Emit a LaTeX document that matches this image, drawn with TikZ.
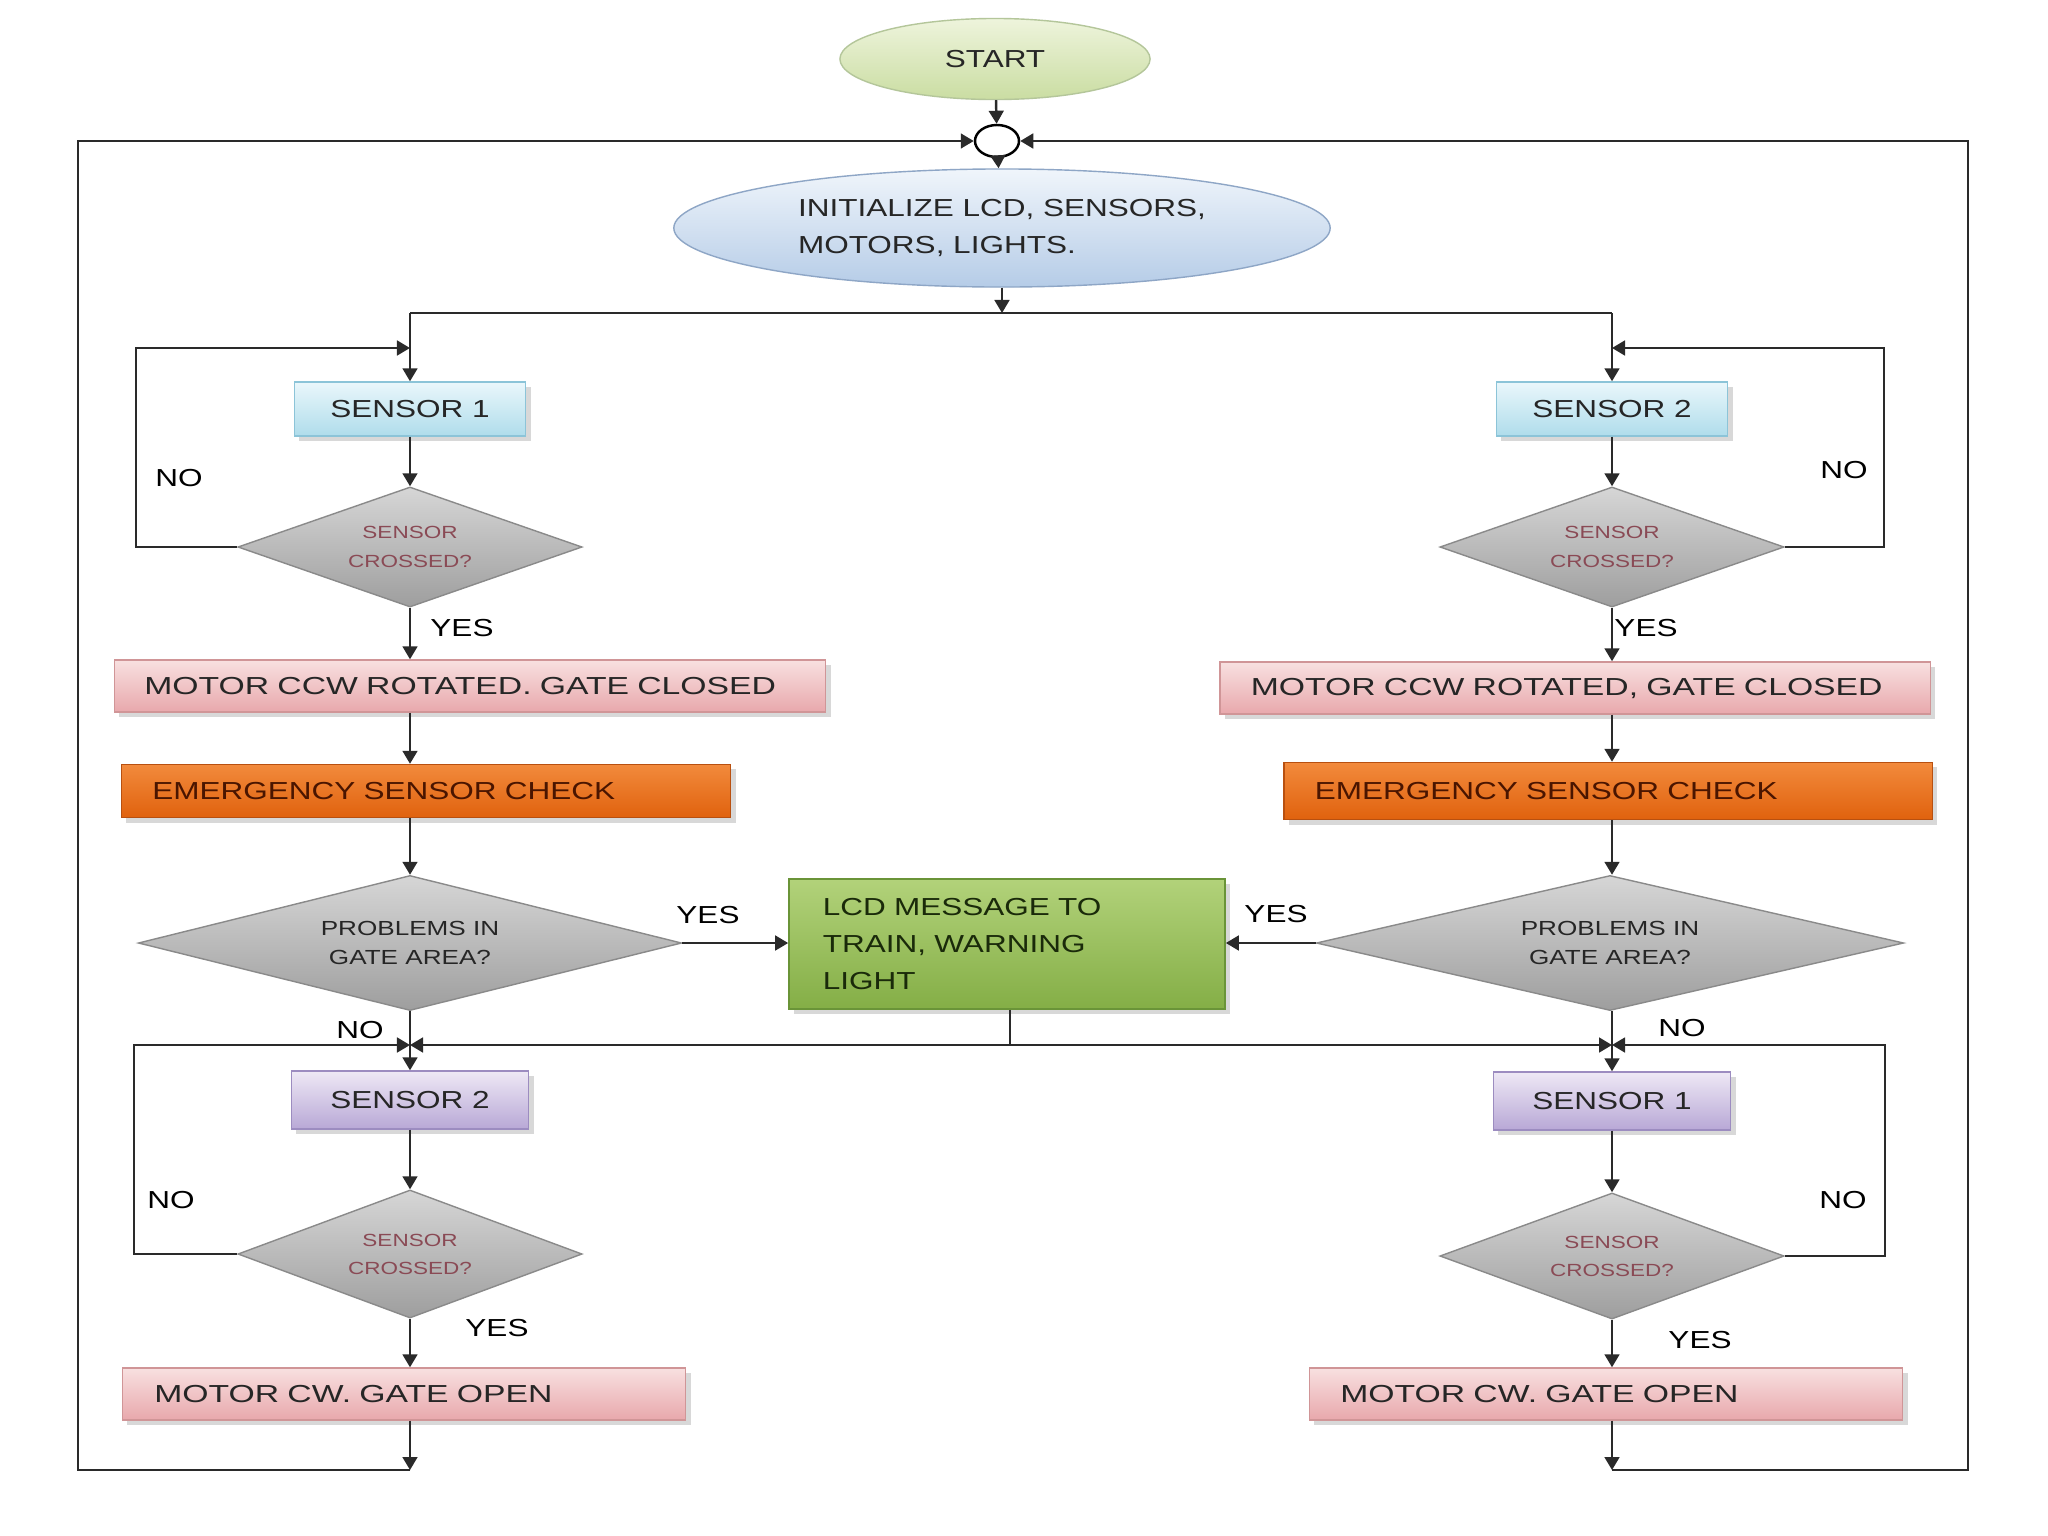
\documentclass[tikz,border=0pt]{standalone}
\usepackage{fontspec}
\setmainfont{Liberation Sans}[FakeStretch=1.28]
\newfontfamily\widefont{Liberation Sans}[FakeStretch=1.37]
\usetikzlibrary{shapes.geometric,arrows.meta,shadows}
\definecolor{lncol}{HTML}{2A2A2A}
\definecolor{txt}{HTML}{262626}
\definecolor{stT}{HTML}{EEF4DC}\definecolor{stB}{HTML}{CADDA2}\definecolor{stD}{HTML}{B4C69A}
\definecolor{inT}{HTML}{F0F5FB}\definecolor{inB}{HTML}{B5CCE7}\definecolor{inD}{HTML}{8EA6C6}
\definecolor{cyT}{HTML}{EAF7FB}\definecolor{cyB}{HTML}{AFDCEB}\definecolor{cyD}{HTML}{8CC4D8}
\definecolor{grT}{HTML}{D6D6D6}\definecolor{grB}{HTML}{9E9E9E}\definecolor{grD}{HTML}{8A8A8A}
\definecolor{pkT}{HTML}{F8E0E0}\definecolor{pkB}{HTML}{E8A8AC}\definecolor{pkD}{HTML}{D09597}
\definecolor{orT}{HTML}{F28A3C}\definecolor{orB}{HTML}{E0620E}\definecolor{orD}{HTML}{B85010}
\definecolor{orTx}{HTML}{4A1500}
\definecolor{lcT}{HTML}{B2D27A}\definecolor{lcB}{HTML}{84AE46}\definecolor{lcD}{HTML}{6A9438}
\definecolor{lcTx}{HTML}{1A2A0A}
\definecolor{puT}{HTML}{EEE8F5}\definecolor{puB}{HTML}{B8A8D6}\definecolor{puD}{HTML}{9C8CC0}
\definecolor{crTx}{HTML}{8A4A55}
\tikzset{
  every node/.style={font=\fontsize{7}{10.5}\selectfont, text=txt},
  ln/.style={draw=lncol, line width=0.7pt},
  arr/.style={ln, -{Triangle[length=3.7pt,width=4.2pt]}},
  shd/.style={drop shadow={shadow xshift=0.5mm,shadow yshift=-0.5mm,opacity=0.3}},
  startn/.style={ellipse, draw=stD, top color=stT, bottom color=stB, minimum width=3.10cm, minimum height=0.81cm, inner sep=0pt},
  junc/.style={ellipse, draw=black, line width=0.7pt, fill=white, minimum width=0.44cm, minimum height=0.32cm, inner sep=0pt},
  initn/.style={ellipse, draw=inD, top color=inT, bottom color=inB, minimum width=6.56cm, minimum height=1.18cm, inner sep=0pt, align=left},
  cyanbox/.style={rectangle, draw=cyD, top color=cyT, bottom color=cyB, minimum width=2.31cm, minimum height=0.54cm, inner sep=0pt, shd},
  purbox/.style={rectangle, draw=puD, top color=puT, bottom color=puB, minimum width=2.37cm, minimum height=0.58cm, inner sep=0pt, shd},
  pinkbox/.style={rectangle, draw=pkD, top color=pkT, bottom color=pkB, minimum height=0.52cm, inner ysep=0pt, align=left, font=\widefont\fontsize{7}{10.5}\selectfont, shd},
  orbox/.style={rectangle, draw=orD, top color=orT, bottom color=orB, text=orTx, inner xsep=0.31cm, inner ysep=0pt, align=left, shd},
  lcdbox/.style={rectangle, draw=lcD, top color=lcT, bottom color=lcB, text=lcTx, minimum height=1.30cm, inner xsep=0.34cm, inner ysep=0pt, text width=3.68cm, align=left, shd},
  dia/.style={diamond, draw=grD, top color=grT, bottom color=grB, aspect=2.86, minimum width=3.44cm, minimum height=1.20cm, inner sep=0pt, align=center, text=crTx, font=\fontsize{5}{8}\selectfont},
  pdia/.style={diamond, draw=grD, top color=grT, bottom color=grB, aspect=4, minimum height=1.35cm, inner sep=0pt, align=center, text=txt, font=\fontsize{5.8}{8}\selectfont},
  lbl/.style={inner sep=0pt, text=black}
}
\begin{document}
\begin{tikzpicture}[x=0.01cm,y=-0.01cm]
\useasboundingbox (0,0) rectangle (2048,1536);
\fill[white] (0,0) rectangle (2048,1536);

% nodes
\node[startn] (start) at (995,59) {START};
\node[junc] (junc) at (997,141) {};
\node[initn] (init) at (1002,228) {INITIALIZE LCD, SENSORS,\\MOTORS, LIGHTS.};
\node[cyanbox] (s1) at (410,409) {SENSOR 1};
\node[cyanbox] (s2) at (1612,409) {SENSOR 2};
\node[dia] (d1) at (410,547) {SENSOR\\CROSSED?};
\node[dia] (d2) at (1612,547) {SENSOR\\CROSSED?};
\node[pinkbox, inner xsep=0.30cm, text width=6.51cm] (m1) at (470,686) {MOTOR CCW ROTATED. GATE CLOSED};
\node[pinkbox, inner xsep=0.31cm, text width=6.48cm] (m2) at (1575,688) {MOTOR CCW ROTATED, GATE CLOSED};
\node[orbox, text width=5.47cm, minimum height=0.53cm] (e1) at (426,791) {EMERGENCY SENSOR CHECK};
\node[orbox, text width=5.86cm, minimum height=0.57cm] (e2) at (1608,791) {EMERGENCY SENSOR CHECK};
\node[pdia, minimum width=5.43cm] (p1) at (410,943) {PROBLEMS IN\\GATE AREA?};
\node[pdia, minimum width=5.87cm] (p2) at (1610,943) {PROBLEMS IN\\GATE AREA?};
\node[lcdbox] (lcd) at (1007,944) {LCD MESSAGE TO\\TRAIN, WARNING\\LIGHT};
\node[purbox] (t1) at (410,1100) {SENSOR 2};
\node[purbox] (t2) at (1612,1101) {SENSOR 1};
\node[dia, minimum height=1.28cm] (d3) at (410,1254) {SENSOR\\CROSSED?};
\node[dia, minimum height=1.26cm] (d4) at (1612,1256) {SENSOR\\CROSSED?};
\node[pinkbox, inner xsep=0.32cm, text width=4.99cm] (c1) at (404,1394) {MOTOR CW. GATE OPEN};
\node[pinkbox, inner xsep=0.31cm, text width=5.31cm] (c2) at (1606,1394) {MOTOR CW. GATE OPEN};

% helper coordinates
\coordinate (br) at (1002,313);
\coordinate (lpL) at (136,348);
\coordinate (lpR) at (1884,348);
\coordinate (lb) at (1010,1045);
\coordinate (llL) at (134,1045);
\coordinate (llR) at (1885,1045);
\coordinate (bl) at (410,1470);
\coordinate (brr) at (1612,1470);
\coordinate (oBL) at (78,1470);
\coordinate (oTL) at (78,141);
\coordinate (oBR) at (1968,1470);
\coordinate (oTR) at (1968,141);

% connectors
\draw[arr] (start) -- (junc);
\draw[arr] (junc) -- (init);
\draw[arr] (init.south) -- (br);
\draw[ln] (br -| s1) -- (br -| s2);
\draw[arr] (br -| s1) -- (s1);
\draw[arr] (br -| s2) -- (s2);
\draw[arr] (d1.west) -| (lpL) -- (lpL -| s1);
\draw[arr] (d2.east) -| (lpR) -- (lpR -| s2);
\draw[arr] (s1) -- (d1);
\draw[arr] (s2) -- (d2);
\draw[arr] (d1) -- (m1.north -| d1);
\draw[arr] (d2) -- (m2.north -| d2);
\draw[arr] (m1.south -| d1) -- (e1.north -| d1);
\draw[arr] (m2.south -| d2) -- (e2.north -| d2);
\draw[arr] (e1.south -| p1) -- (p1);
\draw[arr] (e2.south -| d2) -- (p2.north -| d2);
\draw[arr] (p1.east) -- (lcd.west |- p1.east);
\draw[arr] (p2.west) -- (lcd.east |- p2.west);
\draw[arr] (p1) -- (t1);
\draw[arr] (p2.south -| t2) -- (t2);
\draw[ln] (lcd.south -| lb) -- (lb);
\draw[arr] (lb) -- (lb -| t1);
\draw[arr] (lb) -- (lb -| t2);
\draw[arr] (d3.west) -| (llL) -- (llL -| t1);
\draw[arr] (d4.east) -| (llR) -- (llR -| t2);
\draw[arr] (t1) -- (d3);
\draw[arr] (t2) -- (d4);
\draw[arr] (d3) -- (c1.north -| d3);
\draw[arr] (d4) -- (c2.north -| d4);
\draw[arr] (c1.south -| d3) -- (bl);
\draw[arr] (c2.south -| d4) -- (brr);
\draw[arr] (bl) -- (oBL) -- (oTL) -- (junc.west);
\draw[arr] (brr) -- (oBR) -- (oTR) -- (junc.east);

% labels
\node[lbl] (no1) at (179,478) {NO};
\node[lbl] (no2) at (1844,470) {NO};
\node[lbl] (y1) at (462,628) {YES};
\node[lbl] (y2) at (1646,628) {YES};
\node[lbl] (y3) at (708,915) {YES};
\node[lbl] (y4) at (1276,914) {YES};
\node[lbl] (no3) at (360,1030) {NO};
\node[lbl] (no4) at (1682,1028) {NO};
\node[lbl] (no5) at (171,1200) {NO};
\node[lbl] (no6) at (1843,1200) {NO};
\node[lbl] (y5) at (497,1328) {YES};
\node[lbl] (y6) at (1700,1340) {YES};
\end{tikzpicture}
\end{document}
